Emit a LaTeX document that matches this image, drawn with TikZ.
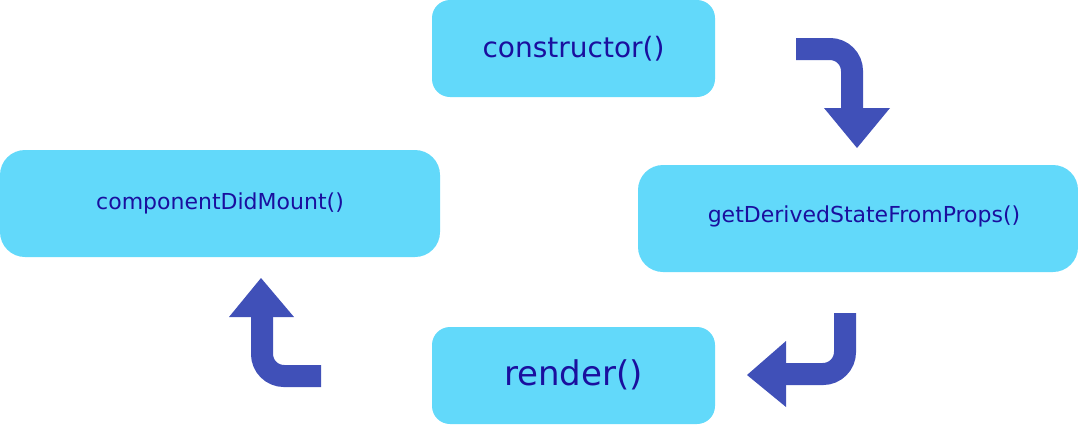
\documentclass[tikz,border=0pt]{standalone}
\usepackage{fontspec}
\setmainfont{DejaVu Sans}
\definecolor{boxc}{HTML}{62D9FA}
\definecolor{txt}{HTML}{1A0F9E}
\definecolor{arr}{HTML}{4050B8}
\begin{document}
\begin{tikzpicture}[x=1pt,y=-1pt,
  box/.style={fill=boxc,draw=none,rounded corners=18pt,text=txt,inner sep=0},
  band/.style={draw=arr,line width=22pt,rounded corners=22pt},
  head/.style={fill=arr,draw=none}]
\useasboundingbox (0,0) rectangle (1078,429);
\fill[boxc,rounded corners=18] (432,0) rectangle (715,97);
\node[text=txt,font=\fontsize{28}{30}\selectfont] (c) at (573.5,48.5) {constructor()};
\fill[boxc,rounded corners=25] (0,150) rectangle (440,257);
\node[text=txt,font=\fontsize{22}{26}\selectfont] (m) at (220,203) {componentDidMount()};
\fill[boxc,rounded corners=25] (638,165) rectangle (1078,272);
\node[text=txt,font=\fontsize{22}{26}\selectfont] (g) at (864,216) {getDerivedStateFromProps()};
\fill[boxc,rounded corners=18] (432,327) rectangle (715,424);
\node[text=txt,font=\fontsize{34}{38}\selectfont] (r) at (573.5,375) {render()};
% arrow 1
\draw[band] (796,49) -- (852,49) -- (852,110);
\fill[head] (824,108) -- (890,108) -- (857,148) -- cycle;
% arrow 2
\draw[band] (845,313) -- (845,374) -- (784,374);
\fill[head] (786,341) -- (786,407) -- (747,375) -- cycle;
% arrow 3
\draw[band] (321,376) -- (262,376) -- (262,315);
\fill[head] (229,317) -- (294,317) -- (261,278) -- cycle;
\end{tikzpicture}
\end{document}
